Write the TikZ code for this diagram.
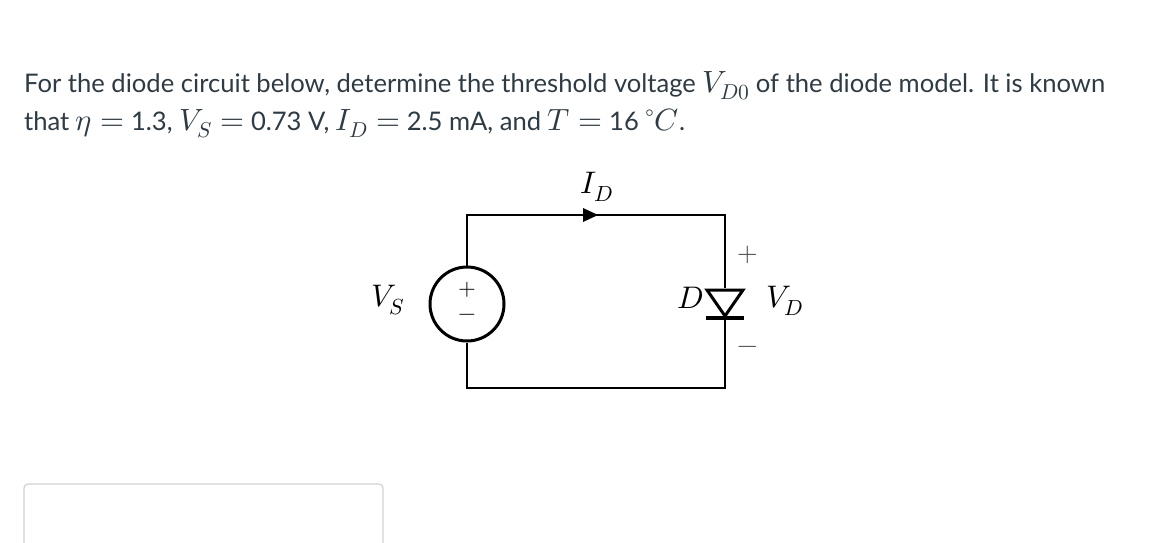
\documentclass[tikz,border=0pt]{standalone}
\usepackage{fontspec}
\setmainfont{Lato}
\usepackage{unicode-math}
\setmathfont[Scale=1.2]{Latin Modern Math}
\definecolor{canvas}{HTML}{2D3B45}
\begin{document}
\begin{tikzpicture}[x=1pt,y=-1pt,
  wire/.style={line width=2.2pt},
  lbl/.style={font=\fontsize{26}{30}\selectfont, inner sep=0pt},
  txt/.style={font=\fontsize{25.6}{30}\selectfont, anchor=base west, inner sep=0pt, text=canvas}]
\useasboundingbox (0,0) rectangle (1170,542);
\node[txt] (l1) at (24,92) {For the diode circuit below, determine the threshold voltage $V_{D0}$ of the diode model. It is known};
\node[txt] (l2) at (24,130) {that $\eta=$ 1.3, $V_S=$ 0.73 V, $I_D=$ 2.5 mA, and $T=$ 16 $^\circ C$.};
\coordinate (tl) at (467,215);
\coordinate (tr) at (725,215);
\coordinate (bl) at (467,388);
\coordinate (br) at (725,388);
\node[circle, draw, line width=3pt, minimum size=74pt, inner sep=0pt] (src) at (467,304) {};
\node[font=\fontsize{19}{19}\selectfont, inner sep=0pt] (sp) at (467,290) {$+$};
\node[font=\fontsize{19}{19}\selectfont, inner sep=0pt] (sm) at (467,317) {$-$};
\coordinate (dtop) at (725,288);
\coordinate (dbot) at (725,318);
\draw[wire] (src.north) -- (tl) -- (tr) -- (dtop);
\draw[wire] (src.south) -- (bl) -- (br) -- (dbot);
\fill (583,208) -- (598,215) -- (583,222) -- cycle;
\draw[line width=3pt, line join=miter] (707,290) -- (743,290) -- (725,316) -- cycle;
\draw[line width=3.5pt] (706,318) -- (744,318);
\node[lbl] (id) at (597,187) {$I_D$};
\node[lbl] (vs) at (388,300) {$V_S$};
\node[lbl] (d) at (690,298) {$D$};
\node[lbl] (vd) at (785,301) {$V_D$};
\node[font=\fontsize{22}{22}\selectfont, inner sep=0pt, text=black!70] (p) at (748,255) {$+$};
\node[font=\fontsize{22}{22}\selectfont, inner sep=0pt, text=black!70] (m) at (748,350) {$-$};
\draw[black!18, line width=1.2pt, rounded corners=4pt] (24,560) -- (24,484) -- (383,484) -- (383,560);
\end{tikzpicture}
\end{document}
